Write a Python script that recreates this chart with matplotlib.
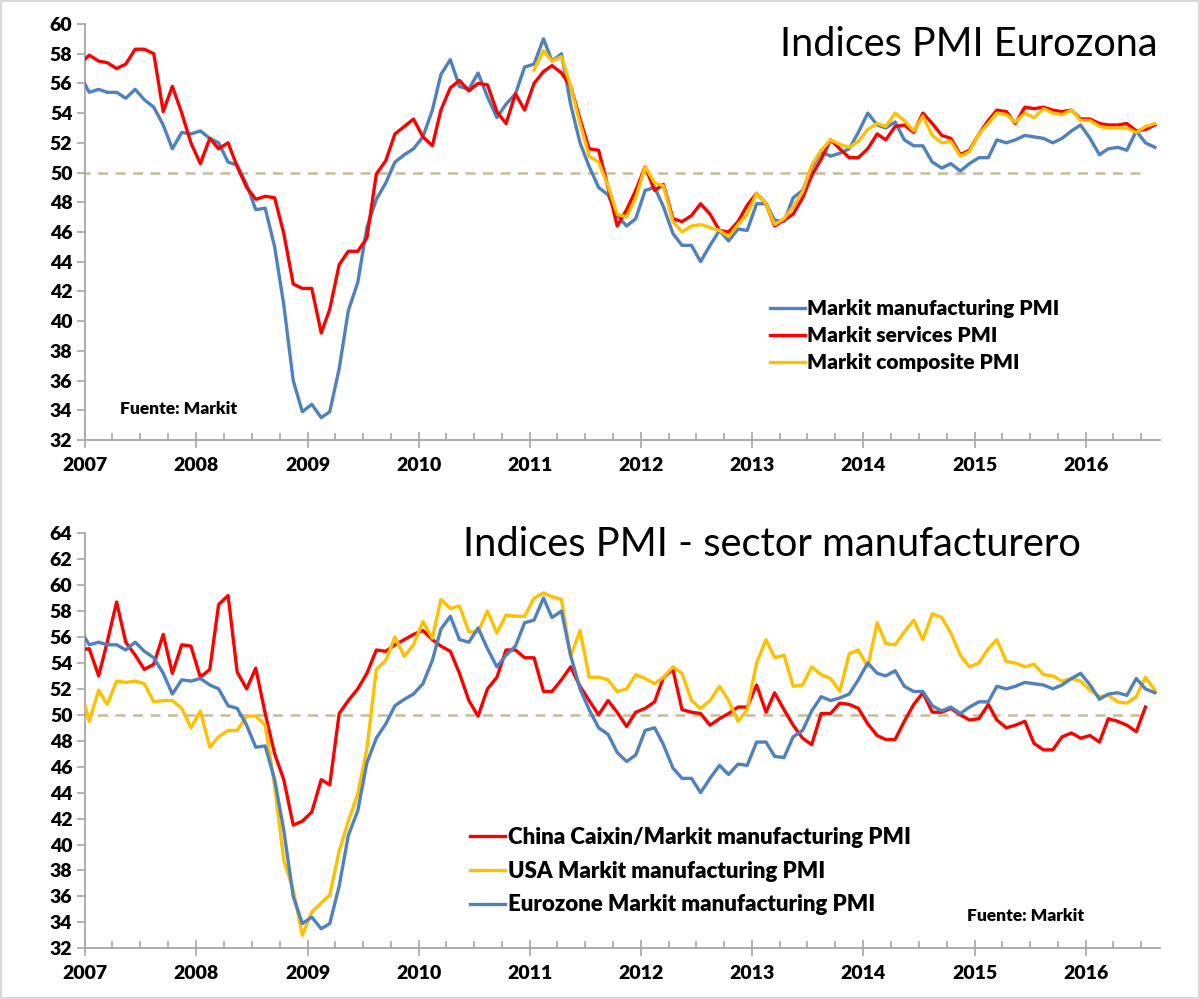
import numpy as np
import pandas as pd
import matplotlib
matplotlib.use('Agg')
import matplotlib.pyplot as plt
import matplotlib.dates as mdates

plt.rcParams['font.family'] = ['Lato', 'DejaVu Sans']

# meses dic-2006 .. ago-2016, fechados a mitad de mes (como en el original)
fechas = pd.date_range('2006-12-01', '2016-08-01', freq='MS') + pd.Timedelta(days=14)

# ── Eurozona: PMI manufacturero (Markit) ──
ez_manuf = [56.6,
    55.4, 55.6, 55.4, 55.4, 55.0, 55.6, 54.9, 54.4, 53.2, 51.6, 52.7, 52.6,   # 2007
    52.8, 52.3, 52.0, 50.7, 50.5, 49.2, 47.5, 47.6, 45.0, 41.1, 36.0, 33.9,   # 2008
    34.4, 33.5, 33.9, 36.8, 40.7, 42.6, 46.3, 48.2, 49.3, 50.7, 51.2, 51.6,   # 2009
    52.4, 54.2, 56.6, 57.6, 55.8, 55.6, 56.7, 55.1, 53.7, 54.6, 55.3, 57.1,   # 2010
    57.3, 59.0, 57.5, 58.0, 54.6, 52.0, 50.4, 49.0, 48.5, 47.1, 46.4, 46.9,   # 2011
    48.8, 49.0, 47.7, 45.9, 45.1, 45.1, 44.0, 45.1, 46.1, 45.4, 46.2, 46.1,   # 2012
    47.9, 47.9, 46.8, 46.7, 48.3, 48.8, 50.3, 51.4, 51.1, 51.3, 51.6, 52.7,   # 2013
    54.0, 53.2, 53.0, 53.4, 52.2, 51.8, 51.8, 50.7, 50.3, 50.6, 50.1, 50.6,   # 2014
    51.0, 51.0, 52.2, 52.0, 52.2, 52.5, 52.4, 52.3, 52.0, 52.3, 52.8, 53.2,   # 2015
    52.3, 51.2, 51.6, 51.7, 51.5, 52.8, 52.0, 51.7]                           # 2016

# ── Eurozona: PMI servicios ──
ez_serv = [57.3,
    57.9, 57.5, 57.4, 57.0, 57.3, 58.3, 58.3, 58.0, 54.1, 55.8, 54.0, 52.0,
    50.6, 52.3, 51.6, 52.0, 50.4, 49.0, 48.2, 48.4, 48.3, 45.9, 42.5, 42.2,
    42.2, 39.2, 40.8, 43.8, 44.7, 44.7, 45.6, 49.9, 50.8, 52.6, 53.1, 53.6,
    52.4, 51.8, 54.2, 55.7, 56.2, 55.5, 56.0, 55.9, 54.1, 53.3, 55.3, 54.2,
    56.0, 56.8, 57.2, 56.7, 55.8, 53.6, 51.6, 51.5, 49.0, 46.4, 47.5, 48.8,
    50.4, 48.8, 49.2, 46.9, 46.7, 47.1, 47.9, 47.2, 46.1, 46.0, 46.7, 47.8,
    48.6, 47.9, 46.4, 46.8, 47.2, 48.3, 49.8, 50.9, 52.2, 51.6, 51.0, 51.0,
    51.6, 52.6, 52.2, 53.1, 53.2, 52.7, 54.0, 53.3, 52.5, 52.3, 51.2, 51.5,
    52.6, 53.5, 54.2, 54.1, 53.3, 54.4, 54.3, 54.4, 54.2, 54.1, 54.2, 53.6,
    53.6, 53.3, 53.2, 53.2, 53.3, 52.8, 52.9, 53.2]

# ── Eurozona: PMI compuesto (desde ene-2011) ──
ez_comp_2011 = [
    56.9, 58.2, 57.5, 57.8, 55.8, 53.3, 51.1, 50.7, 49.1, 47.2, 47.0, 48.3,
    50.4, 49.3, 49.1, 46.7, 46.0, 46.4, 46.5, 46.3, 46.1, 45.7, 46.5, 47.2,
    48.6, 47.9, 46.5, 46.9, 47.7, 48.7, 50.5, 51.5, 52.2, 51.9, 51.7, 52.1,
    52.9, 53.3, 53.1, 54.0, 53.5, 52.8, 53.8, 52.5, 52.0, 52.1, 51.1, 51.4,
    52.6, 53.3, 54.0, 53.9, 53.4, 54.0, 53.7, 54.3, 54.0, 53.9, 54.2, 53.5,
    53.5, 53.1, 53.0, 53.0, 53.0, 52.7, 53.1, 53.3]
ez_comp = [np.nan] * (len(fechas) - len(ez_comp_2011)) + ez_comp_2011

# ── China Caixin/Markit manufacturero (hasta jul-2016) ──
china = [55.0,
    55.1, 53.0, 55.6, 58.7, 55.6, 54.6, 53.5, 53.9, 56.2, 53.2, 55.4, 55.3,
    52.9, 53.5, 58.5, 59.2, 53.3, 52.0, 53.6, 50.1, 47.0, 45.0, 41.5, 41.8,
    42.5, 45.0, 44.6, 50.1, 51.1, 52.0, 53.2, 55.0, 54.9, 55.4, 55.8, 56.2,
    56.5, 55.8, 55.3, 54.9, 53.2, 51.1, 49.9, 52.0, 52.9, 55.0, 55.0, 54.4,
    54.4, 51.8, 51.8, 52.7, 53.7, 52.2, 51.1, 50.0, 51.1, 50.2, 49.1, 50.2,
    50.5, 51.0, 52.9, 53.5, 50.4, 50.2, 50.1, 49.2, 49.7, 50.1, 50.6, 50.6,
    52.3, 50.2, 51.7, 50.4, 49.2, 48.2, 47.7, 50.1, 50.1, 50.9, 50.8, 50.5,
    49.3, 48.4, 48.1, 48.1, 49.5, 50.8, 51.7, 50.2, 50.2, 50.5, 50.0, 49.6,
    49.7, 50.8, 49.6, 49.0, 49.2, 49.5, 47.8, 47.3, 47.3, 48.3, 48.6, 48.2,
    48.4, 47.9, 49.7, 49.5, 49.2, 48.7, 50.6, np.nan]

# ── USA Markit manufacturero ──
usa = [52.3,
    49.5, 51.9, 50.8, 52.6, 52.5, 52.6, 52.4, 51.0, 51.1, 51.1, 50.5, 49.0,
    50.3, 47.5, 48.3, 48.8, 48.8, 49.9, 49.9, 49.2, 44.5, 38.8, 36.5, 33.0,
    34.8, 35.5, 36.1, 39.5, 41.8, 43.9, 47.4, 53.5, 54.2, 56.0, 54.5, 55.4,
    57.2, 55.9, 58.9, 58.2, 58.4, 56.4, 56.4, 58.0, 56.3, 57.7, 57.6, 57.6,
    59.0, 59.4, 59.1, 58.9, 54.5, 56.5, 52.9, 52.9, 52.7, 51.8, 52.0, 53.1,
    52.8, 52.4, 52.9, 53.7, 53.2, 51.1, 50.5, 51.1, 52.2, 51.1, 49.5, 50.4,
    54.0, 55.8, 54.4, 54.6, 52.2, 52.3, 53.7, 53.1, 52.8, 51.8, 54.7, 55.0,
    53.7, 57.1, 55.5, 55.4, 56.4, 57.3, 55.8, 57.8, 57.5, 56.3, 54.6, 53.7,
    54.0, 55.1, 55.8, 54.1, 54.0, 53.7, 53.9, 53.1, 53.0, 52.6, 52.8, 52.6,
    51.9, 51.4, 51.5, 51.0, 50.9, 51.4, 52.9, 51.9]

nivel_50 = 50
AZUL, ROJO, AMARILLO = '#4f81bd', '#ff0000', '#ffc000'
GRIS = '#a6a6a6'
NEGRITA = 'heavy'


def formato_eje(ax, ymin, ymax):
    ax.set_xlim(pd.Timestamp('2007-01-01'), pd.Timestamp('2016-09-01'))
    ax.set_ylim(ymin, ymax)
    ax.set_yticks(np.arange(ymin, ymax + 1, 2))
    ax.xaxis.set_major_locator(mdates.YearLocator())
    ax.xaxis.set_major_formatter(mdates.DateFormatter('%Y'))
    ax.xaxis.set_minor_locator(mdates.MonthLocator(bymonth=[4, 7, 10]))
    for s in ['top', 'right']:
        ax.spines[s].set_visible(False)
    for s in ['left', 'bottom']:
        ax.spines[s].set_color(GRIS)
        ax.spines[s].set_linewidth(1.3)
    ax.tick_params(axis='y', direction='out', length=6, color=GRIS, width=1.2,
                   labelsize=14, pad=3)
    ax.tick_params(axis='x', which='major', direction='inout', length=12,
                   color=GRIS, width=1.2, labelsize=14, pad=6)
    ax.tick_params(axis='x', which='minor', direction='in', length=5,
                   color=GRIS, width=1.2)
    for lb in ax.get_xticklabels() + ax.get_yticklabels():
        lb.set_fontweight(NEGRITA)
    # línea de referencia 50 (hasta jul-2016)
    ax.plot(fechas[:-1], [nivel_50] * (len(fechas) - 1), color='#c4bd97',
            lw=1.8, ls=(0, (4, 3)), zorder=1)


fig = plt.figure(figsize=(12, 9.99), dpi=100)

# ── (a) Eurozona ──
ax1 = fig.add_axes([0.0708, 0.5596, 0.8959, 0.4164])
formato_eje(ax1, 32, 60)
ax1.plot(fechas, ez_manuf, color=AZUL, lw=2.4, label='Markit manufacturing PMI', zorder=3)
ax1.plot(fechas, ez_serv, color=ROJO, lw=2.4, label='Markit services PMI', zorder=4)
ax1.plot(fechas, ez_comp, color=AMARILLO, lw=2.4, label='Markit composite PMI', zorder=5)
ax1.legend(loc='upper left', bbox_to_anchor=(0.637, 0.338), frameon=False,
           borderaxespad=0, borderpad=0, handlelength=1.68, handletextpad=0.12,
           labelspacing=0.385, prop={'weight': NEGRITA, 'size': 15})
fig.text(0.965, 0.955, 'Indices PMI Eurozona', ha='right', va='center', fontsize=28.5)
fig.text(0.1, 0.591, 'Fuente: Markit', ha='left', va='center', fontsize=12.5,
         fontweight=NEGRITA)

# ── (b) sector manufacturero ──
ax2 = fig.add_axes([0.0708, 0.0508, 0.8959, 0.4154])
formato_eje(ax2, 32, 64)
ax2.plot(fechas, china, color=ROJO, lw=2.4,
         label='China Caixin/Markit manufacturing PMI', zorder=3)
ax2.plot(fechas, usa, color=AMARILLO, lw=2.4,
         label='USA Markit manufacturing PMI', zorder=4)
ax2.plot(fechas, ez_manuf, color=AZUL, lw=2.4,
         label='Eurozone Markit manufacturing PMI', zorder=5)
ax2.legend(loc='upper left', bbox_to_anchor=(0.358, 0.293), frameon=False,
           borderaxespad=0, borderpad=0, handlelength=1.6, handletextpad=0.1,
           labelspacing=0.58, prop={'weight': NEGRITA, 'size': 16})
fig.text(0.3855, 0.455, 'Indices PMI - sector manufacturero', ha='left',
         va='center', fontsize=28.7)
fig.text(0.806, 0.083, 'Fuente: Markit', ha='left', va='center', fontsize=12.5,
         fontweight=NEGRITA)

# marco gris del conjunto
fig.patches.append(plt.Rectangle((0.001, 0.001), 0.998, 0.998, transform=fig.transFigure,
                                 fill=False, edgecolor='#d9d9d9', lw=1.5))

fig.savefig('out.png', dpi=100)
